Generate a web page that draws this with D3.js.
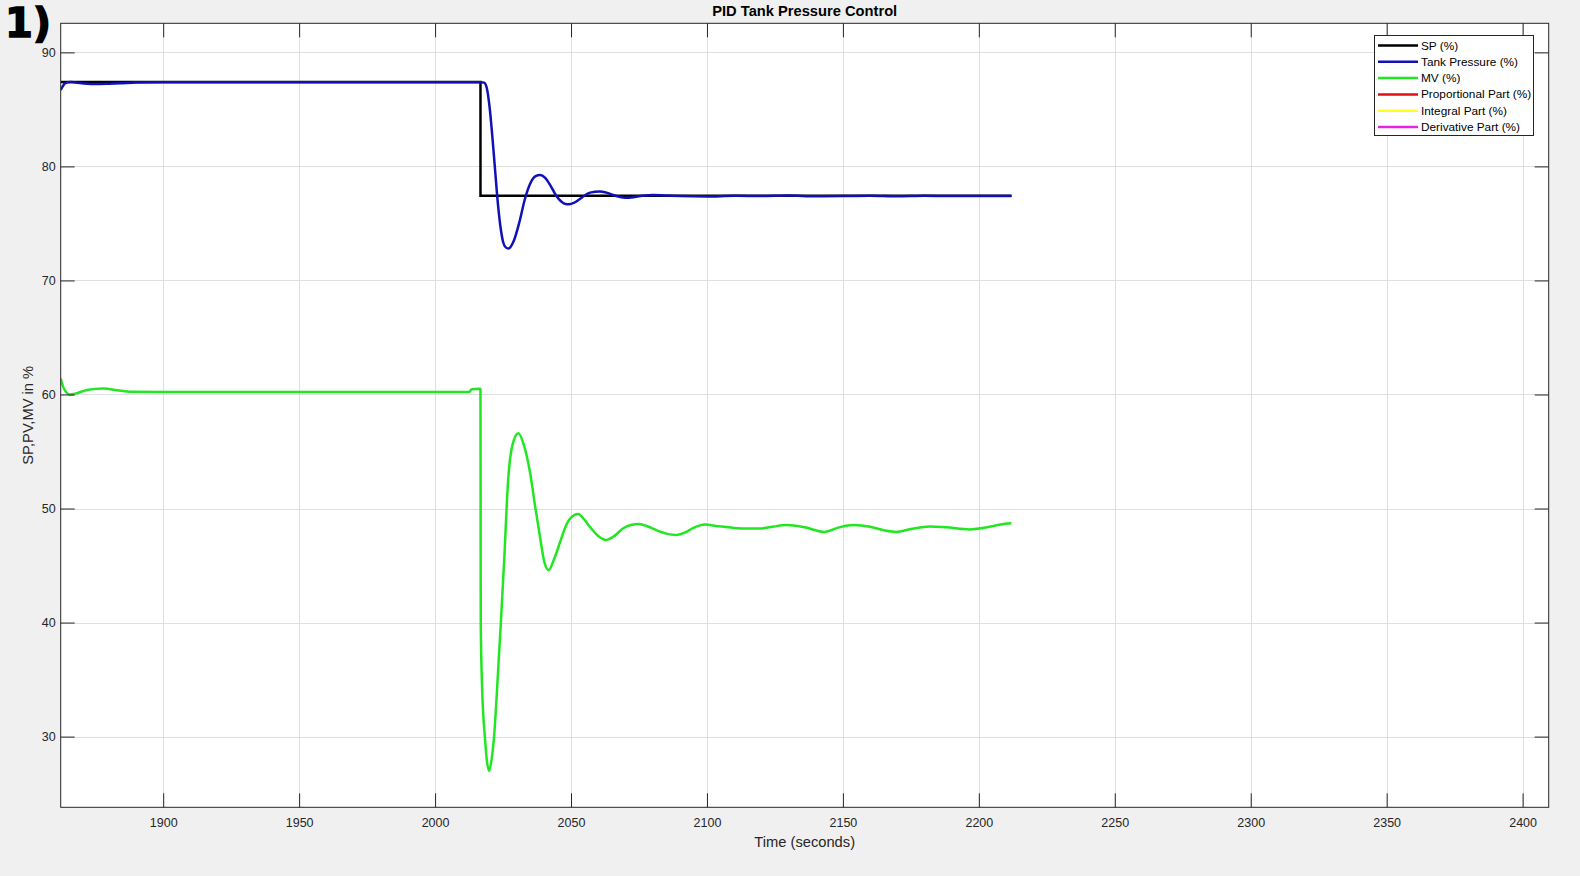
<!DOCTYPE html>
<html>
<head>
<meta charset="utf-8">
<script src="https://cdn.jsdelivr.net/npm/d3@7"></script>
<style>
  html, body { margin: 0; padding: 0; background: #f0f0f0; }
  svg { display: block; font-family: "Liberation Sans", Arial, Helvetica, sans-serif; }
</style>
</head>
<body>
<svg id="chart" width="1580" height="876"></svg>
<script>
// ---------- data ----------
const xTicks = [1900, 1950, 2000, 2050, 2100, 2150, 2200, 2250, 2300, 2350, 2400];
const yTicks = [30, 40, 50, 60, 70, 80, 90];

const spTime  = [1862.3, 2016.7, 2016.7, 2212];
const spValue = [87.4,   87.4,   77.43,  77.43];

const pvTime = [1862.3, 1863, 1864, 1866, 1870, 1875, 1880, 1885, 1890, 1900, 1950, 2000, 2017, 2018, 2019, 2020, 2021, 2022, 2023, 2024, 2025, 2026, 2027, 2029, 2031, 2033, 2035, 2037, 2038.6, 2040.5, 2042.5, 2044.5, 2046.5, 2048, 2049.3, 2051, 2053, 2055, 2057, 2060.6, 2063, 2066, 2069.8, 2073, 2077, 2080, 2085, 2090, 2100, 2110, 2120, 2130, 2140, 2150, 2160, 2170, 2180, 2190, 2200, 2212];
const pvValue = [86.7, 87.0, 87.3, 87.4, 87.3, 87.22, 87.25, 87.3, 87.35, 87.38, 87.38, 87.38, 87.38, 87.35, 86.9, 85.3, 82.8, 79.9, 77.0, 74.8, 73.4, 72.9, 72.8, 73.5, 75.1, 77.1, 78.5, 79.15, 79.25, 79.0, 78.3, 77.45, 76.9, 76.7, 76.68, 76.8, 77.1, 77.45, 77.7, 77.8, 77.7, 77.45, 77.25, 77.3, 77.45, 77.5, 77.45, 77.4, 77.36, 77.42, 77.4, 77.45, 77.38, 77.4, 77.43, 77.38, 77.42, 77.4, 77.4, 77.4];

const mvTime = [1862.3, 1863.5, 1865.7, 1868, 1872, 1878, 1883, 1888.4, 1900, 1950, 2012.5, 2013.5, 2016.5, 2016.7, 2016.75, 2016.8, 2017.2, 2017.7, 2018.3, 2019.0, 2019.9, 2020.8, 2021.7, 2022.6, 2023.4, 2024.2, 2025.4, 2026.9, 2028.5, 2030.6, 2032.5, 2034.9, 2036.8, 2038.6, 2040.2, 2041.8, 2043.5, 2045.9, 2047.8, 2049.6, 2052.6, 2055, 2056.9, 2060, 2063, 2066, 2069.1, 2072, 2075, 2078, 2081.4, 2085, 2088.7, 2092, 2095, 2099.2, 2104, 2110, 2115, 2119.5, 2124, 2129.2, 2136, 2143.3, 2148, 2153.7, 2160, 2165, 2169.6, 2175, 2181.9, 2188, 2196.6, 2203, 2208, 2212];
const mvValue = [61.4, 60.5, 60.0, 60.1, 60.4, 60.53, 60.38, 60.24, 60.22, 60.22, 60.22, 60.45, 60.5, 60.45, 50, 40.0, 35.0, 32.0, 30.0, 28.0, 27.0, 28.0, 30.0, 33.3, 36.7, 40.0, 45.4, 52.6, 55.6, 56.6, 55.7, 53.2, 50.2, 47.5, 45.3, 44.6, 45.4, 47.0, 48.3, 49.1, 49.52, 49.0, 48.4, 47.6, 47.25, 47.6, 48.25, 48.55, 48.64, 48.45, 48.1, 47.8, 47.68, 47.9, 48.3, 48.6, 48.45, 48.3, 48.25, 48.25, 48.4, 48.55, 48.35, 47.95, 48.3, 48.55, 48.4, 48.1, 47.95, 48.2, 48.43, 48.35, 48.17, 48.35, 48.6, 48.7];

const legendNames  = ["SP (%)", "Tank Pressure (%)", "MV (%)", "Proportional Part (%)", "Integral Part (%)", "Derivative Part (%)"];
const legendColors = ["#000000", "#1010b8", "#22e622", "#e01010", "#ffff22", "#e622e6"];

// ---------- layout ----------
const L = 60.7, R = 1548.7, T = 23.3, B = 807.3;
const svg = d3.select("#chart");
const x = d3.scaleLinear().domain([1862.3, 2409.6]).range([L, R]);
const y = d3.scaleLinear().domain([23.8, 92.55]).range([B, T]);

svg.append("rect").attr("x", L).attr("y", T).attr("width", R - L).attr("height", B - T).attr("fill", "#ffffff");

// grid
const grid = svg.append("g");
grid.selectAll("line.gx").data(xTicks).join("line")
  .attr("x1", d => Math.round(x(d)) + 0.5).attr("x2", d => Math.round(x(d)) + 0.5)
  .attr("y1", T).attr("y2", B).attr("stroke", "#dfdfdf").attr("stroke-width", 1);
grid.selectAll("line.gy").data(yTicks).join("line")
  .attr("y1", d => Math.round(y(d)) + 0.5).attr("y2", d => Math.round(y(d)) + 0.5)
  .attr("x1", L).attr("x2", R).attr("stroke", "#dfdfdf").attr("stroke-width", 1);

// lines
const sp = spTime.map((t, i) => [t, spValue[i]]);
const pv = pvTime.map((t, i) => [t, pvValue[i]]);
const mv = mvTime.map((t, i) => [t, mvValue[i]]);
svg.append("clipPath").attr("id", "clip").append("rect")
  .attr("x", L).attr("y", T).attr("width", R - L).attr("height", B - T);
const plot = svg.append("g").attr("clip-path", "url(#clip)");
const lineLin = d3.line().x(d => x(d[0])).y(d => y(d[1]));
const lineSmooth = d3.line().x(d => x(d[0])).y(d => y(d[1])).curve(d3.curveMonotoneX);

plot.append("path").attr("d", lineLin(sp)).attr("fill", "none").attr("stroke", legendColors[0]).attr("stroke-width", 2.5);
plot.append("path").attr("d", lineSmooth(pv)).attr("fill", "none").attr("stroke", legendColors[1]).attr("stroke-width", 2.5);
plot.append("path").attr("d", lineSmooth(mv)).attr("fill", "none").attr("stroke", legendColors[2]).attr("stroke-width", 2.5);

// axes box + ticks
const axisColor = "#262626";
const tk = 14;
svg.append("rect").attr("x", L).attr("y", T).attr("width", R - L).attr("height", B - T)
  .attr("fill", "none").attr("stroke", axisColor).attr("stroke-width", 1);

const gBottom = svg.append("g").attr("transform", `translate(0,${B})`)
  .call(d3.axisBottom(x).tickValues(xTicks).tickSize(-tk).tickPadding(11).tickFormat(d3.format("d")));
const gTop = svg.append("g").attr("transform", `translate(0,${T})`)
  .call(d3.axisTop(x).tickValues(xTicks).tickSize(-tk).tickFormat(""));
const gLeft = svg.append("g").attr("transform", `translate(${L},0)`)
  .call(d3.axisLeft(y).tickValues(yTicks).tickSize(-tk).tickPadding(5).tickFormat(d3.format("d")));
const gRight = svg.append("g").attr("transform", `translate(${R},0)`)
  .call(d3.axisRight(y).tickValues(yTicks).tickSize(-tk).tickFormat(""));
[gBottom, gTop, gLeft, gRight].forEach(g => {
  g.select(".domain").remove();
  g.selectAll(".tick line").attr("stroke", axisColor);
  g.selectAll(".tick text").attr("fill", axisColor).style("font-size", "12.5px")
    .style("font-family", "'Liberation Sans', Arial, sans-serif");
});

// title and labels
svg.append("text").attr("x", (L + R) / 2).attr("y", 16).attr("text-anchor", "middle")
  .style("font-size", "14.7px").style("font-weight", "bold").attr("fill", "#000")
  .text("PID Tank Pressure Control");
svg.append("text").attr("x", (L + R) / 2).attr("y", 847).attr("text-anchor", "middle")
  .style("font-size", "14.7px").attr("fill", axisColor).text("Time (seconds)");
svg.append("text").attr("transform", `translate(33,${(T + B) / 2}) rotate(-90)`).attr("text-anchor", "middle")
  .style("font-size", "14.7px").attr("fill", axisColor).text("SP,PV,MV in %");

// handwritten-style annotation
svg.append("text").attr("x", 5).attr("y", 37)
  .style("font-size", "40px").style("font-weight", "bold").style("font-family", "'DejaVu Sans', sans-serif")
  .attr("fill", "#000").attr("stroke", "#000").attr("stroke-width", 1.5)
  .text("1)");

// legend
const lgX = 1374, lgY = 35, lgW = 159, lgH = 100;
const lg = svg.append("g");
lg.append("rect").attr("x", lgX + 0.5).attr("y", lgY + 0.5).attr("width", lgW).attr("height", lgH)
  .attr("fill", "#fff").attr("stroke", axisColor).attr("stroke-width", 1);
const item = lg.selectAll("g.item").data(legendNames).join("g")
  .attr("transform", (d, i) => `translate(0,${lgY + 10.5 + i * 16.3})`);
item.append("line").attr("x1", 1378).attr("x2", 1418).attr("y1", 0).attr("y2", 0)
  .attr("stroke", (d, i) => legendColors[i]).attr("stroke-width", 2.5);
item.append("text").attr("x", 1421).attr("y", 4).style("font-size", "11.8px").attr("fill", "#000").text(d => d);
</script>
</body>
</html>
